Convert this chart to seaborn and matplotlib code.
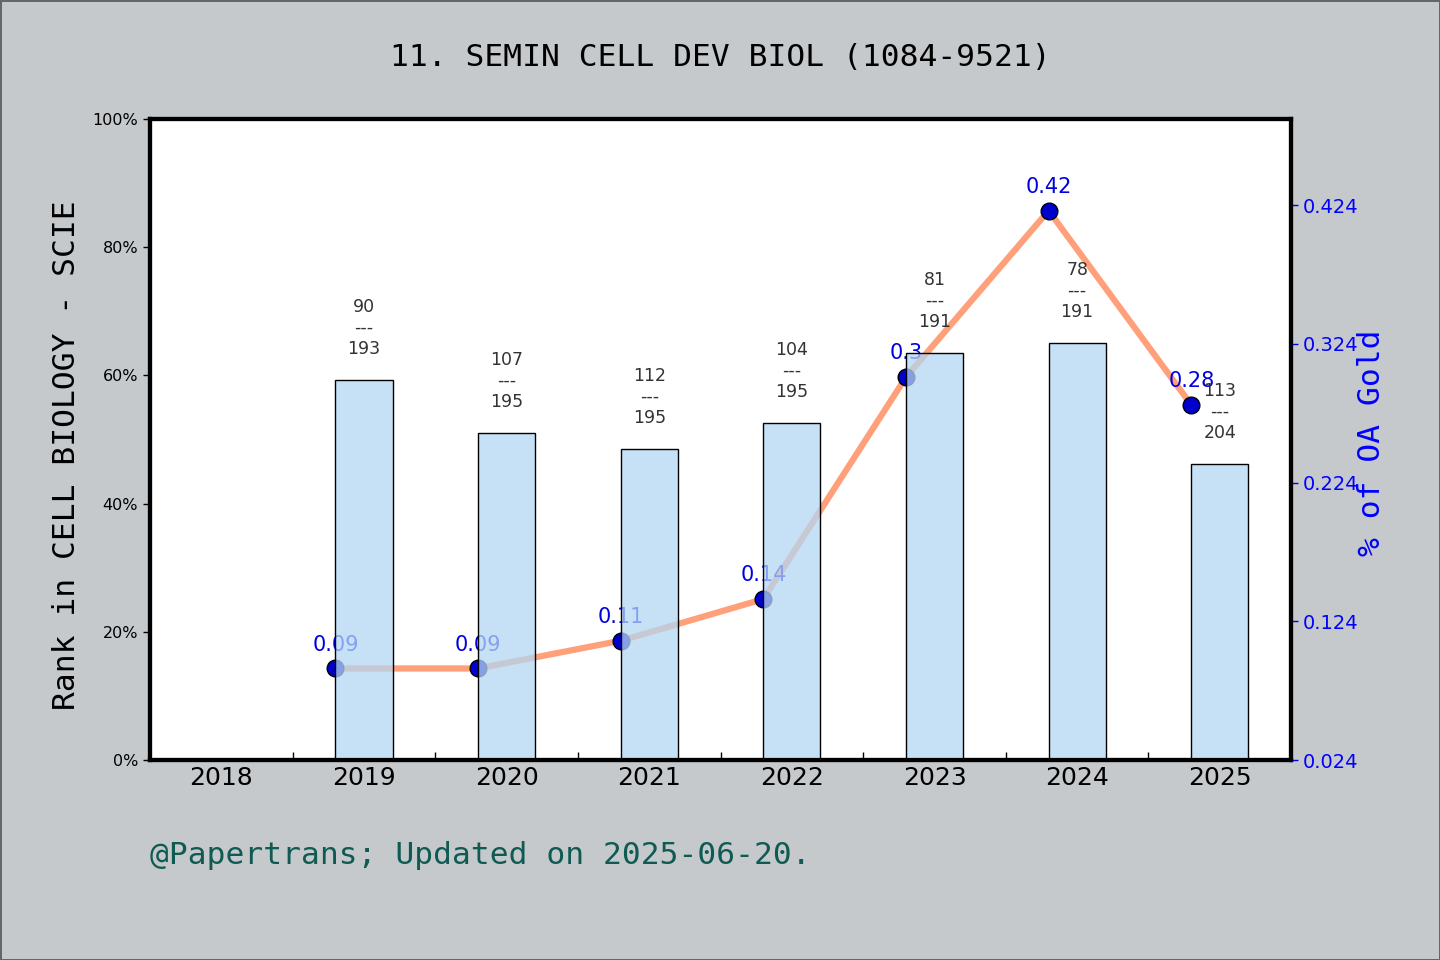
import numpy as np
import matplotlib
matplotlib.use("Agg")
import matplotlib.pyplot as plt
import seaborn as sns

# ---- data ----
years = [2019, 2020, 2021, 2022, 2023, 2024, 2025]
bar_pct = [59.3, 51.0, 48.5, 52.6, 63.5, 65.1, 46.2]      # rank bars (%)
ranks = [90, 107, 112, 104, 81, 78, 113]
totals = [193, 195, 195, 195, 191, 191, 204]
oa_gold = [0.09, 0.09, 0.11, 0.14, 0.30, 0.42, 0.28]
oa_labels = ["0.09", "0.09", "0.11", "0.14", "0.3", "0.42", "0.28"]
tick_years = [2018, 2019, 2020, 2021, 2022, 2023, 2024, 2025]
right_ticks = [0.024, 0.124, 0.224, 0.324, 0.424]

sns.set_theme(style="white")
plt.rcParams["font.family"] = ["DejaVu Sans"]

BG = "#c5c9cc"
MONO = "DejaVu Sans Mono"

fig = plt.figure(figsize=(14.4, 9.6), dpi=100, facecolor=BG,
                 edgecolor="#666666", linewidth=1)
ax2 = fig.add_axes([0.1042, 0.2083, 0.7924, 0.6677])
ax = ax2.twinx()
# bars go on top of the OA line (semi-transparent), like the reference
ax.set_zorder(ax2.get_zorder() + 1)
ax.patch.set_visible(False)
ax2.set_facecolor("white")
ax.xaxis.set_visible(True)

# --- OA Gold line (right scale) ---
line_x = [y - 0.2 for y in years]
sns.lineplot(x=line_x, y=oa_gold, ax=ax2, color="#ffa07a", linewidth=4.5,
             marker="o", markersize=12, markerfacecolor="#0000cc",
             markeredgecolor="black", markeredgewidth=1, zorder=3)
for x, v, s in zip(line_x, oa_gold, oa_labels):
    ax2.annotate(s, (x, v), xytext=(0, 10), textcoords="offset points",
                 ha="center", va="bottom", fontsize=15, color="#0000e0")

# --- rank bars (left scale) ---
sns.barplot(x=years, y=bar_pct, ax=ax, native_scale=True, width=0.4,
            color="#b3d7f3", edgecolor="black", linewidth=1, saturation=1)
# translucent fill, solid black edge
for p in ax.patches:
    p.set_alpha(None)
    p.set_facecolor((0.70, 0.843, 0.953, 0.75))
    p.set_edgecolor("black")
for x, h, r, t in zip(years, bar_pct, ranks, totals):
    ax.text(x, h + 8.1, f"{r}\n---\n{t}", ha="center", va="center",
            fontsize=12.5, color="#333333", linespacing=1.2)

# --- axes setup ---
ax.set_xlim(2017.5, 2025.5)
ax2.set_xlim(2017.5, 2025.5)
ax.set_ylim(0, 100)
ax2.set_ylim(0.024, 0.486)

# bars live on ax which is now the "right" twin; swap sides so ticks match
ax.yaxis.set_label_position("left")
ax.yaxis.tick_left()
ax2.yaxis.set_label_position("right")
ax2.yaxis.tick_right()

ax.set_yticks([0, 20, 40, 60, 80, 100])
ax.set_yticklabels([f"{v}%" for v in [0, 20, 40, 60, 80, 100]])
ax.tick_params(axis="y", left=True, length=5, width=1, direction="out",
               labelsize=11.5, colors="black")
ax.set_xlabel("")
ax.set_ylabel("")

ax2.set_yticks(right_ticks)
ax2.set_yticklabels([f"{v:.3f}" for v in right_ticks])
ax2.tick_params(axis="y", right=True, length=5, width=1, direction="out",
                labelsize=14, colors="#0000ff")

ax.set_xticks(tick_years)
ax.set_xticklabels([str(y) for y in tick_years])
ax.set_xticks([y + 0.5 for y in tick_years[:-1]], minor=True)
ax.tick_params(axis="x", which="major", bottom=True, labelbottom=True,
               length=0, labelsize=18, pad=4, colors="black")
ax.tick_params(axis="x", which="minor", bottom=True, length=6, width=1,
               direction="in", colors="black")
ax2.tick_params(axis="x", bottom=False, labelbottom=False)

for a in (ax, ax2):
    for sp in a.spines.values():
        sp.set_color("black")
        sp.set_linewidth(3)
        sp.set_visible(True)
ax.grid(False)
ax2.grid(False)

# --- texts ---
fig.text(0.5, 1 - 57 / 960, "11. SEMIN CELL DEV BIOL (1084-9521)",
         ha="center", va="center", fontsize=22.5, family=MONO, color="black")
fig.text(67 / 1440, 1 - 455 / 960, "Rank in CELL BIOLOGY - SCIE",
         rotation=90, ha="center", va="center", fontsize=22.5, family=MONO,
         color="black")
fig.text(1372 / 1440, 1 - 443 / 960, "% of OA Gold", rotation=90,
         ha="center", va="center", fontsize=22.5, family=MONO, color="#0000ff")
fig.text(150 / 1440, 1 - 855 / 960, "@Papertrans; Updated on 2025-06-20.",
         ha="left", va="center", fontsize=22.5, family=MONO, color="#0f5a52")

fig.savefig("out.png", dpi=100, facecolor=BG, edgecolor="#666666")
